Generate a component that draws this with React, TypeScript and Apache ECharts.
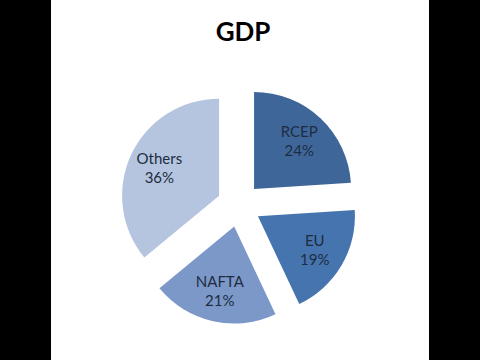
import React, { useEffect, useRef } from "react";
import * as echarts from "echarts";

const categories = ["RCEP", "EU", "NAFTA", "Others"];
const values = [24, 19, 21, 36];
const colors = ["#3f6699", "#4674ae", "#7b98c8", "#b5c5df"];

export default function App() {
  const ref = useRef<HTMLDivElement>(null);
  useEffect(() => {
    if (!ref.current) return;
    const chart = echarts.init(ref.current, null, { renderer: "svg" });
    const data = categories.map((name, i) => ({
      name,
      value: values[i],
      selected: true,
      itemStyle: { color: colors[i] },
    }));
    const labelData = categories.map((name, i) => ({
      name,
      value: values[i],
      selected: true,
    }));
    chart.setOption({
      animation: false,
      backgroundColor: "#000000",
      title: {
        text: "GDP",
        left: 238,
        top: 13,
        textAlign: "center",
        textStyle: {
          fontFamily: "Lato, 'Open Sans', sans-serif",
          fontWeight: "bold",
          fontSize: 26,
          color: "#000000",
        },
      },
      graphic: [
        {
          type: "rect",
          z: -10,
          shape: { x: 51, y: 0, width: 378, height: 360 },
          style: { fill: "#ffffff" },
          silent: true,
        },
      ],
      series: [
        {
          type: "pie",
          center: [239, 205],
          radius: [0, 97],
          startAngle: 90,
          clockwise: true,
          selectedMode: "multiple",
          selectedOffset: 22,
          label: { show: false },
          labelLine: { show: false },
          emphasis: { disabled: true },
          data,
        },
        {
          type: "pie",
          center: [239, 205],
          radius: [0, 126],
          startAngle: 90,
          clockwise: true,
          selectedMode: "multiple",
          selectedOffset: 22,
          silent: true,
          itemStyle: { color: "rgba(0,0,0,0)" },
          emphasis: { disabled: true },
          label: {
            show: true,
            position: "inside",
            formatter: (p: any) => `${p.name}\n${p.value}%`,
            fontFamily: "Lato, 'Open Sans', sans-serif",
            fontSize: 15,
            lineHeight: 19,
            color: "#1e2c42",
          },
          labelLine: { show: false },
          data: labelData,
        },
      ],
    });
    return () => chart.dispose();
  }, []);
  return (
    <div
      ref={ref}
      style={{ position: "absolute", left: 0, top: 0, width: 480, height: 360 }}
    />
  );
}
